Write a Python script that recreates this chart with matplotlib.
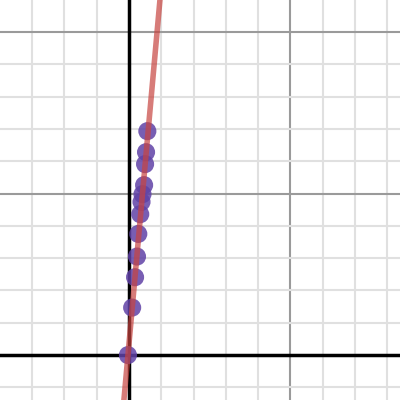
import numpy as np
import matplotlib
matplotlib.use('Agg')
import matplotlib.pyplot as plt

# Data points
x_pts = [0.57, 0.53, 0.50, 0.47, 0.42, 0.39, 0.35, 0.29, 0.25, 0.19, 0.10, -0.03]
y_pts = [6.93, 6.28, 5.91, 5.26, 4.98, 4.74, 4.36, 3.75, 3.05, 2.41, 1.47, 0.00]

# Fitted line y = m*x + b
m = 11.1
b = 0.33

x_min, x_max = -3.99, 8.39
y_min, y_max = -1.39, 10.99

fig = plt.figure(figsize=(4, 4), dpi=100)
ax = fig.add_axes([0, 0, 1, 1])
ax.set_xlim(x_min, x_max)
ax.set_ylim(y_min, y_max)

# Grid: minor every 1, major every 5
for gx in range(-3, 9):
    if gx == 0:
        continue
    col = '#9a9a9a' if gx % 5 == 0 else '#e0e0e0'
    ax.axvline(gx, color=col, lw=1.5, zorder=0)
for gy in range(-1, 11):
    if gy == 0:
        continue
    col = '#9a9a9a' if gy % 5 == 0 else '#e0e0e0'
    ax.axhline(gy, color=col, lw=1.5, zorder=0)

# Axes
ax.axvline(0, color='black', lw=2.5, zorder=1)
ax.axhline(0, color='black', lw=2.5, zorder=1)

# Points (line is drawn over them, like desmos)
ax.scatter(x_pts, y_pts, s=170, color='#6042a6', alpha=0.85, edgecolors='none', zorder=2)

# Regression line
xs = np.array([x_min, x_max])
ax.plot(xs, m * xs + b, color='#c74440', alpha=0.7, lw=4, solid_capstyle='butt', zorder=3)

ax.set_xticks([])
ax.set_yticks([])
for s in ax.spines.values():
    s.set_visible(False)

fig.savefig('out.png', dpi=100)
